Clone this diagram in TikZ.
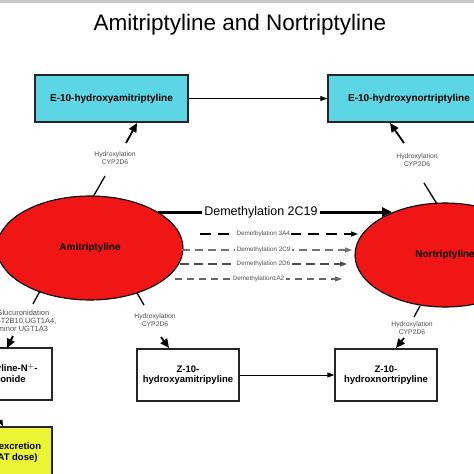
\documentclass[tikz,border=0pt]{standalone}
\usepackage{fontspec}
\setmainfont{Liberation Sans}
\usetikzlibrary{arrows.meta,shapes.geometric}

\definecolor{boxcyan}{RGB}{92,214,228}
\definecolor{boxyellow}{RGB}{234,245,52}
\definecolor{ovalred}{RGB}{240,22,22}
\definecolor{notegray}{RGB}{80,80,80}

\begin{document}
\begin{tikzpicture}[x=1pt, y=-1pt,
  cbox/.style={draw=black!85, line width=1.4pt, fill=boxcyan, minimum height=47pt, inner sep=0pt, font=\fontsize{10}{12}\selectfont\bfseries},
  zbox/.style={draw=black!85, line width=1.4pt, fill=white, minimum height=52pt, inner sep=0pt, align=center, font=\fontsize{9.5}{10.5}\selectfont\bfseries},
  oval/.style={ellipse, draw=black, line width=1.1pt, fill=ovalred, inner sep=0pt, minimum height=104pt, font=\fontsize{10}{12}\selectfont\bfseries},
  note/.style={text=notegray, align=center, font=\fontsize{6.8}{8}\selectfont, inner sep=1pt},
  dlabel/.style={text=notegray, fill=white, font=\fontsize{6.3}{7}\selectfont, inner sep=1.5pt},
  link/.style={line width=0.9pt, -{Triangle[length=7pt, width=5pt]}},
  hyd/.style={line width=1.8pt, -{Triangle[length=9pt, width=8pt]}},
  dem/.style={-{Triangle[length=7pt, width=5pt]}}
]
  \useasboundingbox (0,0) rectangle (474,474);
  \clip (0,0) rectangle (474,474);
  \fill[black!22] (0,0) rectangle (474,2.5);

  \node[font=\fontsize{22.5}{26}\selectfont] (title) at (240,25) {Amitriptyline and Nortriptyline};

  \node[cbox, minimum width=153pt] (eami) at (111.5,98.5) {E-10-hydroxyamitriptyline};
  \node[cbox, minimum width=148pt] (enor) at (402,98.5) {};
  \node[font=\fontsize{10}{12}\selectfont\bfseries] (enortxt) at (409,98.5) {E-10-hydroxynortriptyline};
  \draw[link] (eami) -- (enor);

  \node[oval, minimum width=186pt] (ami) at (90,248) {Amitriptyline};
  \node[oval, minimum width=180pt] (nor) at (445,255) {Nortriptyline};

  \node[zbox, minimum width=107pt] (gluc) at (-1.5,374) {Amitriptyline-N$^{+}$-\\glucuronide};
  \node[zbox, minimum width=102pt] (zami) at (188,375) {Z-10-\\hydroxyamitripyline};
  \node[zbox, minimum width=102pt] (znor) at (386,375) {Z-10-\\hydroxnortripyline};
  \node[zbox, fill=boxyellow, minimum width=100pt, minimum height=51pt] (excr) at (2,452.5) {Urinary excretion\\(8\% of AT dose)};
  \draw[link] (zami) -- (znor);

  % hydroxylation and glucuronidation steps
  \node[note] (hyd1) at (115,158) {Hydroxylation\\CYP2D6};
  \node[note] (hyd2) at (417,160) {Hydroxylation\\CYP2D6};
  \node[note] (hyd3) at (155,320) {Hydroxylation\\CYP2D6};
  \node[note] (hyd4) at (412,328) {Hydroxylation\\CYP2D6};
  \node[note, font=\fontsize{7.5}{8}\selectfont] (glu) at (23,321) {Glucuronidation\\UGT2B10,UGT1A4,\\minor UGT1A3};

  \coordinate (a1) at (93,197);  \coordinate (a2) at (105,176);
  \coordinate (a3) at (126,143); \coordinate (a4) at (137,123);
  \coordinate (b1) at (437,204); \coordinate (b2) at (424,183);
  \coordinate (b3) at (404,143); \coordinate (b4) at (390,123);
  \coordinate (c1) at (137,293); \coordinate (c2) at (144,305);
  \coordinate (c3) at (161,337); \coordinate (c4) at (169,348);
  \coordinate (e1) at (420,306); \coordinate (e2) at (414,317);
  \coordinate (e3) at (404,338); \coordinate (e4) at (396,348);
  \coordinate (g1) at (40,291);  \coordinate (g2) at (33,304);
  \coordinate (g3) at (13,336);  \coordinate (g4) at (7,348);
  \coordinate (x1) at (-6,410);  \coordinate (x2) at (3,426);

  \draw[line width=1.3pt] (a1) -- (a2);
  \draw[hyd] (a3) -- (a4);
  \draw[line width=1.3pt] (b1) -- (b2);
  \draw[hyd] (b3) -- (b4);
  \draw[line width=1.3pt] (c1) -- (c2);
  \draw[hyd] (c3) -- (c4);
  \draw[line width=1.3pt] (e1) -- (e2);
  \draw[hyd] (e3) -- (e4);
  \draw[line width=1.3pt] (g1) -- (g2);
  \draw[hyd] (g3) -- (g4);
  \draw[line width=1.3pt, -{Triangle[length=6pt, width=5pt]}] (x1) -- (x2);

  % demethylation
  \coordinate (m0s) at (158,212); \coordinate (m0e) at (392,212);
  \coordinate (m1s) at (200,234); \coordinate (m1e) at (358,234);
  \coordinate (m2s) at (182,250); \coordinate (m2e) at (352,250);
  \coordinate (m3s) at (180,264); \coordinate (m3e) at (347,264);
  \coordinate (m4s) at (175,279); \coordinate (m4e) at (342,279);

  \draw[line width=3pt, -{Triangle[length=10pt, width=9pt]}] (m0s) -- node[pos=0.44, fill=white, inner sep=2pt, font=\fontsize{12.5}{14}\selectfont] (m0lbl) {Demethylation 2C19} (m0e);
  \draw[dem, line width=1.5pt, dash pattern=on 11pt off 7pt] (m1s) -- node[pos=0.4, dlabel] (m1lbl) {Demethylation 3A4} (m1e);
  \draw[dem, line width=1.1pt, black!55, dash pattern=on 8pt off 5pt] (m2s) -- node[pos=0.48, dlabel] (m2lbl) {Demethylation 2C9} (m2e);
  \draw[dem, line width=1.2pt, black!70, dash pattern=on 9pt off 5pt] (m3s) -- node[pos=0.5, dlabel] (m3lbl) {Demethylation 2D6} (m3e);
  \draw[dem, line width=1.1pt, black!60, dash pattern=on 7pt off 5pt] (m4s) -- node[pos=0.5, dlabel] (m4lbl) {Demethylation1A2} (m4e);
\end{tikzpicture}
\end{document}
